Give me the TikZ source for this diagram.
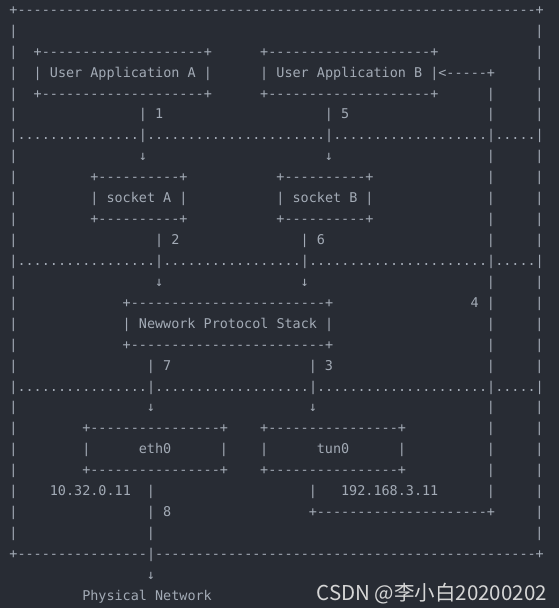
\documentclass[tikz,border=0pt]{standalone}
\usepackage{fontspec}
\setmonofont{DejaVu Sans Mono}
\newfontfamily\cjk{Noto Sans CJK SC}
\ExplSyntaxOn
\newcommand\reptxt[2]{\prg_replicate:nn{#1}{#2}}
\ExplSyntaxOff
\newcommand\dsh[1]{\reptxt{#1}{-}}
\newcommand\dts[1]{\reptxt{#1}{.}}
\definecolor{bg}{HTML}{282C34}
\definecolor{fg}{HTML}{A3ABB6}
\definecolor{wmc}{HTML}{D6D6D6}
\tikzset{
  txt/.style={font=\ttfamily\fontsize{13.45pt}{16pt}\selectfont, text=fg, inner sep=0pt, anchor=base west},
  wm/.style={font=\cjk\fontsize{20.5pt}{24pt}\selectfont, text=wmc, inner sep=0pt, anchor=base west}
}
% place text starting at column #2 of row #3
\newcommand\cel[4]{\node[txt] (#1) at ({9.25+8.09*(#2)},{14.3+20.93*(#3)}) {#4};}
\begin{document}
\begin{tikzpicture}[x=1pt,y=-1pt]
\fill[bg] (0,0) rectangle (559,608);
\useasboundingbox (0,0) rectangle (559,608);
% row 0
\cel{r0}{0}{0}{+\dsh{64}+}
% row 1
\cel{r1a}{0}{1}{|}\cel{r1b}{65}{1}{|}
% row 2
\cel{r2a}{0}{2}{|}\cel{appAt}{3}{2}{+\dsh{20}+}\cel{appBt}{31}{2}{+\dsh{20}+}\cel{r2b}{65}{2}{|}
% row 3
\cel{r3a}{0}{3}{|}\cel{appA}{3}{3}{| User Application A |}\cel{appB}{31}{3}{| User Application B |<-----+}\cel{r3b}{65}{3}{|}
% row 4
\cel{r4a}{0}{4}{|}\cel{appAb}{3}{4}{+\dsh{20}+}\cel{appBb}{31}{4}{+\dsh{20}+}\cel{r4b}{59}{4}{|}\cel{r4c}{65}{4}{|}
% row 5
\cel{r5a}{0}{5}{|}\cel{l1}{16}{5}{| 1}\cel{l5}{39}{5}{| 5}\cel{r5b}{59}{5}{|}\cel{r5c}{65}{5}{|}
% row 6
\cel{r6}{0}{6}{|\dts{15}|\dts{22}|\dts{19}|\dts{5}|}
% row 7
\cel{r7a}{0}{7}{|}\cel{a1}{16}{7}{↓}\cel{a5}{39}{7}{↓}\cel{r7b}{59}{7}{|}\cel{r7c}{65}{7}{|}
% row 8
\cel{r8a}{0}{8}{|}\cel{sAt}{10}{8}{+\dsh{10}+}\cel{sBt}{33}{8}{+\dsh{10}+}\cel{r8b}{59}{8}{|}\cel{r8c}{65}{8}{|}
% row 9
\cel{r9a}{0}{9}{|}\cel{sA}{10}{9}{| socket A |}\cel{sB}{33}{9}{| socket B |}\cel{r9b}{59}{9}{|}\cel{r9c}{65}{9}{|}
% row 10
\cel{r10a}{0}{10}{|}\cel{sAb}{10}{10}{+\dsh{10}+}\cel{sBb}{33}{10}{+\dsh{10}+}\cel{r10b}{59}{10}{|}\cel{r10c}{65}{10}{|}
% row 11
\cel{r11a}{0}{11}{|}\cel{l2}{18}{11}{| 2}\cel{l6}{36}{11}{| 6}\cel{r11b}{59}{11}{|}\cel{r11c}{65}{11}{|}
% row 12
\cel{r12}{0}{12}{|\dts{17}|\dts{17}|\dts{22}|\dts{5}|}
% row 13
\cel{r13a}{0}{13}{|}\cel{a2}{18}{13}{↓}\cel{a6}{36}{13}{↓}\cel{r13b}{59}{13}{|}\cel{r13c}{65}{13}{|}
% row 14
\cel{r14a}{0}{14}{|}\cel{nst}{14}{14}{+\dsh{24}+}\cel{l4}{57}{14}{4}\cel{r14b}{59}{14}{|}\cel{r14c}{65}{14}{|}
% row 15
\cel{r15a}{0}{15}{|}\cel{ns}{14}{15}{| Newwork Protocol Stack |}\cel{r15b}{59}{15}{|}\cel{r15c}{65}{15}{|}
% row 16
\cel{r16a}{0}{16}{|}\cel{nsb}{14}{16}{+\dsh{24}+}\cel{r16b}{59}{16}{|}\cel{r16c}{65}{16}{|}
% row 17
\cel{r17a}{0}{17}{|}\cel{l7}{17}{17}{| 7}\cel{l3}{37}{17}{| 3}\cel{r17b}{59}{17}{|}\cel{r17c}{65}{17}{|}
% row 18
\cel{r18}{0}{18}{|\dts{16}|\dts{19}|\dts{21}|\dts{5}|}
% row 19
\cel{r19a}{0}{19}{|}\cel{a7}{17}{19}{↓}\cel{a3}{37}{19}{↓}\cel{r19b}{59}{19}{|}\cel{r19c}{65}{19}{|}
% row 20
\cel{r20a}{0}{20}{|}\cel{ethT}{9}{20}{+\dsh{16}+}\cel{tunT}{31}{20}{+\dsh{16}+}\cel{r20b}{59}{20}{|}\cel{r20c}{65}{20}{|}
% row 21
\cel{r21a}{0}{21}{|}\cel{ethL}{9}{21}{|}\cel{eth}{16}{21}{eth0}\cel{ethR}{26}{21}{|}\cel{tunL}{31}{21}{|}\cel{tun}{38}{21}{tun0}\cel{tunR}{48}{21}{|}\cel{r21b}{59}{21}{|}\cel{r21c}{65}{21}{|}
% row 22
\cel{r22a}{0}{22}{|}\cel{ethB}{9}{22}{+\dsh{16}+}\cel{tunB}{31}{22}{+\dsh{16}+}\cel{r22b}{59}{22}{|}\cel{r22c}{65}{22}{|}
% row 23
\cel{r23a}{0}{23}{|}\cel{ipA}{5}{23}{10.32.0.11}\cel{r23d}{17}{23}{|}\cel{r23e}{37}{23}{|}\cel{ipB}{41}{23}{192.168.3.11}\cel{r23b}{59}{23}{|}\cel{r23c}{65}{23}{|}
% row 24
\cel{r24a}{0}{24}{|}\cel{l8}{17}{24}{| 8}\cel{loopB}{37}{24}{+\dsh{21}+}\cel{r24c}{65}{24}{|}
% row 25
\cel{r25a}{0}{25}{|}\cel{r25d}{17}{25}{|}\cel{r25c}{65}{25}{|}
% row 26
\cel{r26}{0}{26}{+\dsh{16}|\dsh{47}+}
% row 27
\cel{a8}{17}{27}{↓}
% row 28
\cel{phy}{9}{28}{Physical Network}
% watermark
\node[wm] (wmark) at (316.5,600.5) {CSDN @李小白20200202};
\end{tikzpicture}
\end{document}
